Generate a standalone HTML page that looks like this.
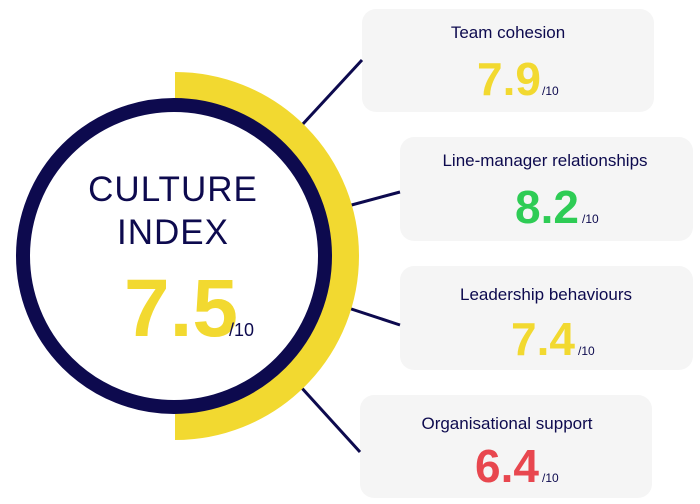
<!DOCTYPE html>
<html><head><meta charset="utf-8"><style>
html,body{margin:0;padding:0;background:#fff;width:700px;height:504px;overflow:hidden}
svg{display:block}
</style></head><body>
<svg width="700" height="504" viewBox="0 0 700 504" xmlns="http://www.w3.org/2000/svg" font-family="Liberation Sans, sans-serif">
<rect x="362" y="9" width="292" height="103" rx="14" fill="#f5f5f5"/>
<rect x="400" y="137" width="293" height="104" rx="14" fill="#f5f5f5"/>
<rect x="400" y="266" width="293" height="104" rx="14" fill="#f5f5f5"/>
<rect x="360" y="395" width="292" height="103" rx="14" fill="#f5f5f5"/>
<g stroke="#0d0a4e" stroke-width="3">
<line x1="290" y1="138" x2="362" y2="60"/>
<line x1="333" y1="210" x2="400" y2="192"/>
<line x1="333" y1="303" x2="400" y2="325"/>
<line x1="290" y1="375" x2="360" y2="452"/>
</g>
<path d="M175 86 A170 170 0 0 1 175 426" fill="none" stroke="#f2d930" stroke-width="28"/>
<circle cx="174" cy="256" r="151" fill="#fff" stroke="#0d0a4e" stroke-width="14"/>
<g fill="#0d0a4e" text-anchor="middle">
<text x="173" y="201" font-size="35" letter-spacing="1">CULTURE</text>
<text x="173" y="244" font-size="35" letter-spacing="1">INDEX</text>
</g>
<text x="124" y="336" font-size="82" font-weight="bold" fill="#f2d930">7.5</text>
<text x="229" y="336" font-size="18" fill="#0d0a4e">/10</text>
<g fill="#0d0a4e" font-size="17" text-anchor="middle">
<text x="508" y="38">Team cohesion</text>
<text x="545" y="166">Line-manager relationships</text>
<text x="546" y="300">Leadership behaviours</text>
<text x="507" y="429">Organisational support</text>
</g>
<g font-size="46" font-weight="bold">
<text x="477" y="95" fill="#f2d930">7.9</text>
<text x="515" y="223" fill="#2ecc55">8.2</text>
<text x="511" y="355" fill="#f2d930">7.4</text>
<text x="475" y="482" fill="#e8474f">6.4</text>
</g>
<g font-size="12" fill="#0d0a4e">
<text x="542" y="95">/10</text>
<text x="582" y="223">/10</text>
<text x="578" y="355">/10</text>
<text x="542" y="482">/10</text>
</g>
</svg>
</body></html>
